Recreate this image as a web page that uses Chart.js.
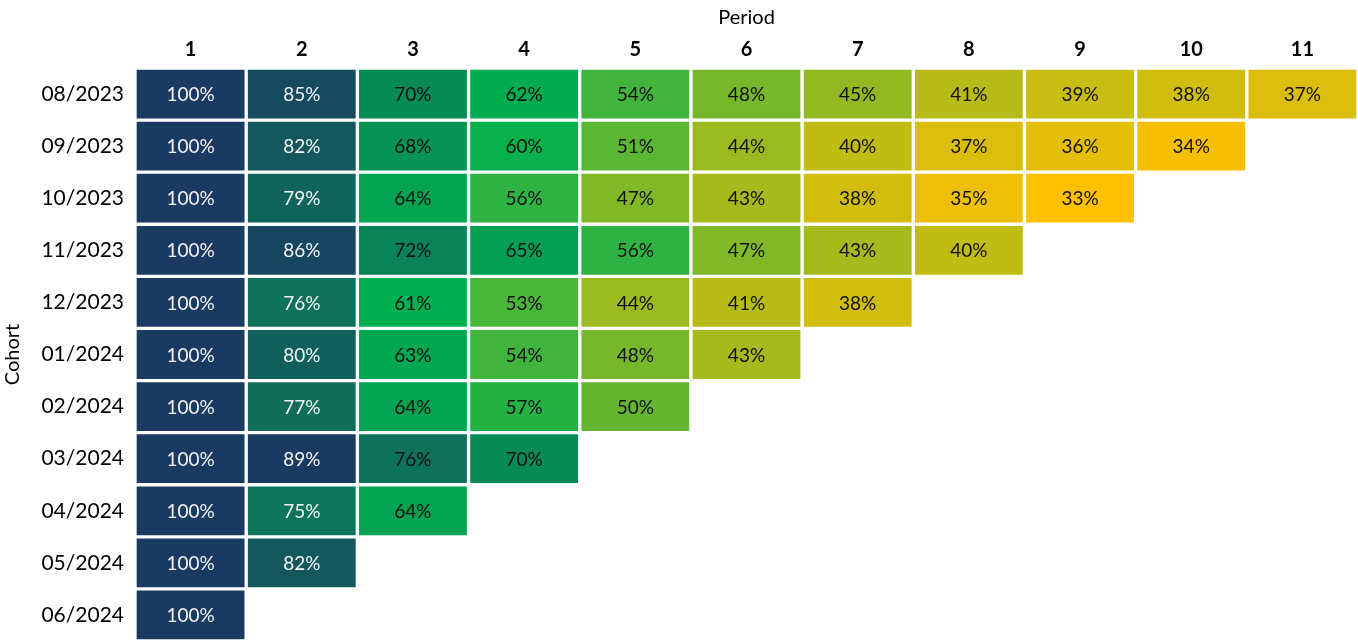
<!DOCTYPE html>
<html>
<head>
<meta charset="utf-8">
<script src="https://cdn.jsdelivr.net/npm/chart.js@4"></script>
<style>
  html, body { margin: 0; padding: 0; background: #fff; overflow: hidden; }
  #wrap { position: relative; width: 1358px; height: 641px; }
</style>
</head>
<body>
<div id="wrap"><canvas id="cohortChart"></canvas></div>
<script>
// Data
const cohorts = ['08/2023', '09/2023', '10/2023', '11/2023', '12/2023', '01/2024',
                 '02/2024', '03/2024', '04/2024', '05/2024', '06/2024'];
const periods = ['1', '2', '3', '4', '5', '6', '7', '8', '9', '10', '11'];
// retention % per cohort (row), one value per period
const retention = [
    [100, 85, 70, 62, 54, 48, 45, 41, 39, 38, 37],
    [100, 82, 68, 60, 51, 44, 40, 37, 36, 34],
    [100, 79, 64, 56, 47, 43, 38, 35, 33],
    [100, 86, 72, 65, 56, 47, 43, 40],
    [100, 76, 61, 53, 44, 41, 38],
    [100, 80, 63, 54, 48, 43],
    [100, 77, 64, 57, 50],
    [100, 89, 76, 70],
    [100, 75, 64],
    [100, 82],
    [100]
];

// Colour scale: low = gold, middle = green, high = navy
const lowColor = [255, 192, 0];
const midColor = [0, 176, 80];
const highColor = [26, 58, 98];
const lowVal = 33, midVal = 61, highVal = 89;

function mix(a, b, t) {
    return a.map((v, i) => Math.round(v + (b[i] - v) * t));
}

function colorFor(v) {
    if (v == null) return 'rgba(0,0,0,0)';
    let c;
    if (v <= midVal) {
        const t = Math.max(0, (v - lowVal) / (midVal - lowVal));
        c = mix(lowColor, midColor, t);
    } else {
        const t = Math.min(1, (v - midVal) / (highVal - midVal));
        c = mix(midColor, highColor, t);
    }
    return `rgb(${c[0]}, ${c[1]}, ${c[2]})`;
}

const FONT = 'Lato, "Open Sans", sans-serif';

// One dataset per period, floating bars spanning that period's slot
const datasets = periods.map((p, j) => ({
    label: p,
    data: cohorts.map((c, i) => retention[i][j] != null ? [j + 0.5, j + 1.5] : null),
    values: cohorts.map((c, i) => retention[i][j]),
    backgroundColor: cohorts.map((c, i) => colorFor(retention[i][j])),
    borderColor: '#ffffff',
    borderWidth: 2,
    borderSkipped: false,
    grouped: false,
    barPercentage: 1,
    categoryPercentage: 1
}));

// Draw the % text inside each cell
const cellLabels = {
    id: 'cellLabels',
    afterDatasetsDraw(chart) {
        const ctx = chart.ctx;
        ctx.save();
        ctx.font = '19px ' + FONT;
        ctx.textAlign = 'center';
        ctx.textBaseline = 'middle';
        chart.data.datasets.forEach((ds, j) => {
            const meta = chart.getDatasetMeta(j);
            meta.data.forEach((bar, i) => {
                const v = ds.values[i];
                if (v == null) return;
                const pt = bar.getCenterPoint();
                ctx.fillStyle = j < 2 ? '#f4f4f4' : '#111111';
                ctx.fillText(v + '%', pt.x, pt.y + 1);
            });
        });
        ctx.restore();
    }
};

new Chart(document.getElementById('cohortChart'), {
    type: 'bar',
    data: {
        labels: cohorts,
        datasets: datasets
    },
    plugins: [cellLabels],
    options: {
        indexAxis: 'y',
        responsive: true,
        maintainAspectRatio: false,
        animation: false,
        layout: { padding: 0 },
        plugins: {
            legend: { display: false },
            tooltip: { enabled: false }
        },
        scales: {
            x: {
                type: 'linear',
                position: 'top',
                min: 0.5,
                max: periods.length + 0.5,
                afterBuildTicks: (scale) => {
                    scale.ticks = periods.map((p, j) => ({ value: j + 1 }));
                },
                afterFit: (scale) => {
                    scale.height = 68;
                    scale.paddingLeft = 0;
                    scale.paddingRight = 0;
                },
                grid: { display: false, drawTicks: false },
                border: { display: false },
                ticks: {
                    autoSkip: false,
                    padding: 6,
                    color: '#000',
                    font: { family: FONT, size: 20, weight: 'bold' },
                    callback: (v) => periods[v - 1]
                },
                title: {
                    display: true,
                    text: 'Period',
                    color: '#000',
                    padding: { top: 6, bottom: 0 },
                    font: { family: FONT, size: 20 }
                }
            },
            y: {
                type: 'category',
                afterFit: (scale) => {
                    scale.width = 135;
                    scale.paddingTop = 0;
                    scale.paddingBottom = 0;
                },
                grid: { display: false, drawTicks: false },
                border: { display: false },
                ticks: {
                    autoSkip: false,
                    padding: 11,
                    color: '#000',
                    font: { family: FONT, size: 21 }
                },
                title: {
                    display: true,
                    text: 'Cohort',
                    color: '#000',
                    padding: { top: 1, bottom: 0 },
                    font: { family: FONT, size: 20 }
                }
            }
        }
    }
});
</script>
</body>
</html>
